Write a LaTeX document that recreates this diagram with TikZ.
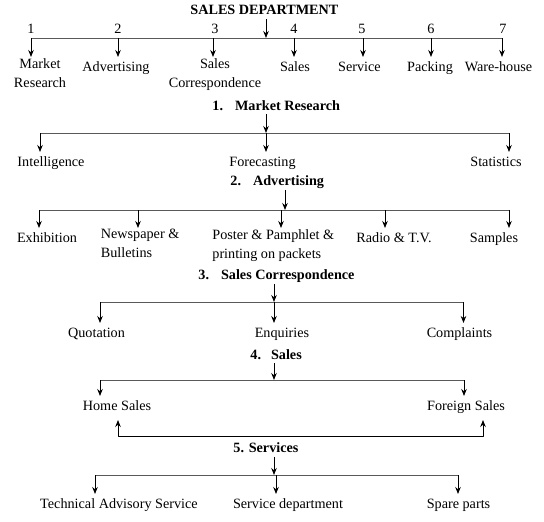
\documentclass[tikz,border=0pt]{standalone}
\usepackage{fontspec}
\setmainfont{Liberation Serif}
\usetikzlibrary{arrows.meta}
\newcommand\dsize{\fontsize{14.2}{19}\selectfont}
\tikzset{
	lbl/.style={anchor=north, inner xsep=0pt, inner ysep=1pt, align=center, font=\dsize, execute at begin node=\strut},
	lbll/.style={lbl, anchor=north west, align=left},
	head/.style={anchor=base west, inner xsep=0pt, inner ysep=1pt, text depth=3pt, font=\dsize\bfseries},
	num/.style={anchor=base, inner sep=0pt, font=\dsize},
	bus/.style={draw=black!65, line width=0.7pt},
}
\begin{document}
\begin{tikzpicture}[x=1pt, y=-1pt, >={Stealth[length=7pt,width=5.5pt]}, line width=0.8pt, line join=round]
		\useasboundingbox (0,0) rectangle (544,522);
		% sales department
		\node[head] (dep) at (190,15) {SALES DEPARTMENT};
		\draw[bus] (31,38) -- (502,38);
		\draw[->] (266,0 |- dep.south) -- (266,38);
		\foreach \x/\n in {31/1,118/2,215/3,294/4,362/5,431/6,503/7}
			\node[num] (n\n) at (\x,33) {\n};
		\foreach \bx/\lx/\name/\txt in {31/40/mr/{Market\\Research}, 118/116/ad/Advertising, 213/215/sc/{Sales\\Correspondence}, 294/295/sa/Sales, 363/359.5/se/Service, 431/430/pa/Packing, 502/498.5/wh/Ware-house}{
			\node[lbl] (\name) at (\lx,57) {\txt};
			\draw[->] (\bx,38) -- (\bx,0 |- \name.north);
		}
		% 1. market research
		\node[head] (h1) at (212,110) {1.\hspace{12pt}Market Research};
		\draw[bus] (40,133) -- (509,133);
		\draw[->] (266,0 |- h1.south) -- (266,133);
		\foreach \bx/\lx/\name/\txt in {40/51/in/Intelligence, 266/262.5/fo/Forecasting, 509/496/st/Statistics}{
			\node[lbl] (\name) at (\lx,152) {\txt};
			\draw[->] (\bx,133) -- (\bx,0 |- \name.north);
		}
		% 2. advertising
		\node[head] (h2) at (230,185.5) {2.\hspace{12pt}Advertising};
		\draw[bus] (39,210) -- (509,210);
		\draw[->] (285,0 |- h2.south) -- (285,210);
		\node[lbl] (ex) at (47,228) {Exhibition};
		\node[lbll] (np) at (100.5,228) {Newspaper \&\\Bulletins};
		\node[lbll] (pp) at (212,228) {Poster \& Pamphlet \&\\printing on packets};
		\node[lbl] (rt) at (394,228) {Radio \& T.V.};
		\node[lbl] (sm) at (494,228) {Samples};
		\foreach \bx/\name in {39/ex, 138/np, 281/pp, 385/rt, 509/sm}
			\draw[->] (\bx,210) -- (\bx,0 |- \name.north);
		% 3. sales correspondence
		\node[head] (h3) at (198,279.5) {3.\hspace{12pt}Sales Correspondence};
		\draw[bus] (100,302) -- (463.5,302);
		\draw[->] (274,0 |- h3.south) -- (274,302);
		\foreach \bx/\lx/\name/\txt in {100/96.5/qu/Quotation, 274/282/en/Enquiries, 463.5/459.5/co/Complaints}{
			\node[lbl] (\name) at (\lx,323) {\txt};
			\draw[->] (\bx,302) -- (\bx,0 |- \name.north);
		}
		% 4. sales
		\node[head] (h4) at (250,359) {4.\hspace{10pt}Sales};
		\draw[bus] (100,380) -- (464,380);
		\draw[->] (274,0 |- h4.south) -- (274,380);
		\foreach \bx/\lx/\name/\txt in {100/117/hs/Home Sales, 464/466/fs/Foreign Sales}{
			\node[lbl] (\name) at (\lx,396) {\txt};
			\draw[->] (\bx,380) -- (\bx,0 |- \name.north);
		}
		\coordinate (hu) at (118,420);
		\coordinate (fu) at (483,420);
		\draw[<->] (hu) -- (118,436) -- (483,436) -- (fu);
		% 5. services
		\node[head] (h5) at (233,452.5) {5. Services};
		\draw[bus] (95,475) -- (458,475);
		\draw[->] (274,0 |- h5.south) -- (274,475);
		\foreach \bx/\lx/\name/\txt in {95/119/ta/Technical Advisory Service, 276/288/sv/Service department, 458/458.5/sp/Spare parts}{
			\node[lbl] (\name) at (\lx,494) {\txt};
			\draw[->] (\bx,475) -- (\bx,0 |- \name.north);
		}
\end{tikzpicture}
\end{document}
